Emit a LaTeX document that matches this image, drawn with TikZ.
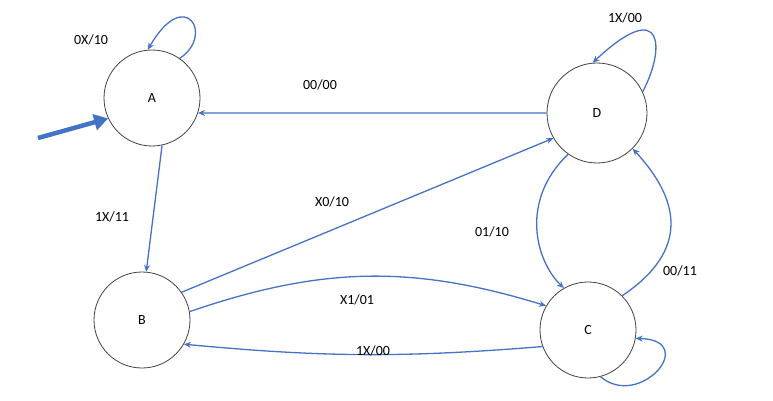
\documentclass[tikz,border=0pt]{standalone}
\usepackage{fontspec}
\setmainfont{Carlito}
\usetikzlibrary{arrows.meta}
\begin{document}
\begin{tikzpicture}[x=1pt,y=-1pt,
  st/.style={circle,draw=black!75,thick,minimum size=96pt,inner sep=0pt,font=\fontsize{14}{16}\selectfont},
  lb/.style={font=\fontsize{14}{16}\selectfont}]
\useasboundingbox (0,0) rectangle (773,401);
\definecolor{eb}{RGB}{68,114,196}
\tikzset{ed/.style={draw=eb,line width=1.3pt,-{Stealth[length=7pt,width=6pt]}}}
\node[st] (A) at (152,98) {A};
\node[st] (B) at (142,320) {B};
\node[st] (C) at (588,330) {C};
\node[st,minimum size=100pt] (D) at (597,113) {D};
\coordinate (s) at (38,138);
\draw[draw=eb,line width=4.5pt,-{Triangle[length=14pt,width=16pt]}] (s) -- (A.205);
\draw[ed] (A.55) .. controls (215,35) and (185,-15) .. (A.95);
\draw[ed] (D.180) -- (A.-18);
\draw[ed] (A.-78) -- (B.85);
\draw[ed] (B.35) -- (D.210);
\draw[ed] (B.10) to[bend left=18] (C.150);
\draw[ed] (C.200) to[bend left=5] (B.-30);
\draw[ed] (D.235) .. controls (520,200) and (535,260) .. (C.120);
\draw[ed] (C.45) .. controls (690,250) and (680,200) .. (D.-45);
\draw[ed] (D.25) .. controls (665,50) and (665,-5) .. (D.95);
\draw[ed] (C.-75) .. controls (640,410) and (700,340) .. (C.-10);
\node[lb] at (91,40) {0X/10};
\node[lb] at (320,85) {00/00};
\node[lb] at (625,18) {1X/00};
\node[lb] at (112,217) {1X/11};
\node[lb] at (332,202) {X0/10};
\node[lb] at (492,232) {01/10};
\node[lb] at (680,271) {00/11};
\node[lb] at (357,300) {X1/01};
\node[lb] at (373,351) {1X/00};
\end{tikzpicture}
\end{document}
